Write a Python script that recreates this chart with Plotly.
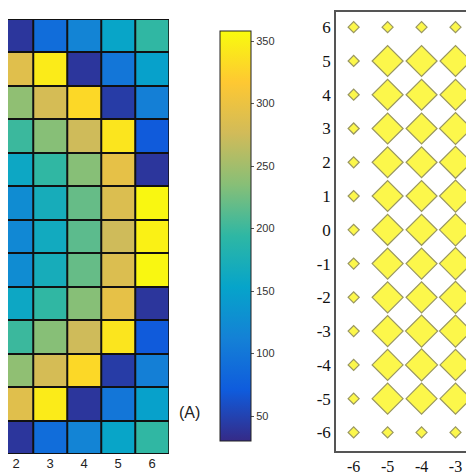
import plotly.graph_objects as go

cols = [1, 2, 3, 4, 5, 6]
rows = list(range(1, 14))
z = [
    [345, 40, 90, 115, 155, 195],
    [240, 290, 345, 40, 100, 150],
    [200, 240, 280, 330, 45, 110],
    [165, 200, 235, 275, 340, 70],
    [125, 160, 195, 235, 295, 40],
    [95, 125, 170, 220, 285, 355],
    [90, 120, 165, 215, 275, 350],
    [95, 125, 170, 220, 285, 355],
    [125, 160, 195, 235, 295, 40],
    [165, 200, 235, 275, 340, 70],
    [200, 240, 280, 330, 45, 110],
    [240, 290, 345, 40, 100, 150],
    [345, 40, 90, 115, 155, 195],
]
cb_ticks = [50, 100, 150, 200, 250, 300, 350]

grid_x = [-6, -5, -4, -3, -2]
grid_y = [6, 5, 4, 3, 2, 1, 0, -1, -2, -3, -4, -5, -6]
sizes = [
    [10, 10, 10, 10, 10],
    [10, 28, 28, 28, 10],
    [10, 28, 28, 28, 10],
    [10, 28, 28, 29, 10],
    [10, 28, 28, 29, 10],
    [10, 28, 28, 29, 10],
    [10, 28, 28, 29, 10],
    [10, 28, 28, 29, 10],
    [10, 28, 28, 29, 10],
    [10, 28, 29, 29, 10],
    [10, 28, 29, 28, 10],
    [10, 28, 28, 28, 10],
    [10, 10, 10, 10, 10],
]
xt_left = [2, 3, 4, 5, 6]
xt_right = [-6, -5, -4, -3, -2]
yt_right = [6, 5, 4, 3, 2, 1, 0, -1, -2, -3, -4, -5, -6]

parula = [
    [0.0, "#352a87"], [0.125, "#0f5cdd"], [0.25, "#1481d6"], [0.375, "#06a4ca"],
    [0.5, "#2eb7a4"], [0.625, "#87bf77"], [0.75, "#d1bb59"], [0.875, "#fec832"],
    [1.0, "#f9fb0e"],
]

MARKER_SCALE = 0.85

fig = go.Figure()
fig.add_trace(go.Heatmap(
    x=cols, y=rows, z=z, colorscale=parula, zmin=30, zmax=358,
    xgap=2, ygap=2, xaxis="x", yaxis="y",
    colorbar=dict(x=202/474, xanchor="left", thickness=31, len=430/474, y=(474-228)/474,
                  yanchor="middle", tickvals=cb_ticks, outlinecolor="#222", outlinewidth=1,
                  ticks="outside", ticklen=3, tickcolor="#555",
                  tickfont=dict(family="Arial", size=11, color="#333")),
))
px, py, ps = [], [], []
for i, yv in enumerate(grid_y):
    for j, xv in enumerate(grid_x):
        px.append(xv); py.append(yv); ps.append(sizes[i][j] * MARKER_SCALE)
fig.add_trace(go.Scatter(
    x=px, y=py, mode="markers", xaxis="x2", yaxis="y2",
    marker=dict(symbol="diamond", size=ps, color="#fbf500",
                line=dict(color="#6e6a1e", width=1.2)),
    showlegend=False, cliponaxis=True,
))
fig.update_layout(
    width=474, height=474, margin=dict(l=0, r=0, t=0, b=0),
    paper_bgcolor="white", plot_bgcolor="white", showlegend=False,
    xaxis=dict(domain=[0, 161/474], range=[1.76, 6.5], tickvals=xt_left,
               showgrid=False, zeroline=False, ticks="",
               tickfont=dict(family="Arial", size=13, color="#222")),
    yaxis=dict(domain=[28/474, 463/474], range=[13.5, 0.5], showticklabels=False,
               showgrid=False, zeroline=False),
    xaxis2=dict(domain=[328/474, 1], range=[-6.52, -2.22], tickvals=xt_right,
                ticktext=[str(v) for v in xt_right],
                showgrid=False, zeroline=False, showline=True, mirror=True,
                linecolor="#555", linewidth=1.5, ticks="", anchor="y2",
                tickfont=dict(family="Times New Roman, Liberation Serif", size=16, color="#111")),
    yaxis2=dict(domain=[31/474, 470/474], range=[-6.55, 6.45], tickvals=yt_right,
                ticktext=[str(v) for v in yt_right],
                showgrid=False, zeroline=False, showline=True, mirror=False,
                linecolor="#555", linewidth=1.5, ticks="", anchor="x2",
                tickfont=dict(family="Times New Roman, Liberation Serif", size=17, color="#111")),
    shapes=[dict(type="rect", xref="x domain", yref="y domain", x0=0, x1=1, y0=0, y1=1,
                 fillcolor="#111", line=dict(width=0), layer="below")],
    annotations=[dict(text="(A)", x=181/474, y=(474-415)/474, xref="paper", yref="paper",
                      showarrow=False, font=dict(family="Arial", size=16, color="#222"))],
)
fig.write_html("out.html")
